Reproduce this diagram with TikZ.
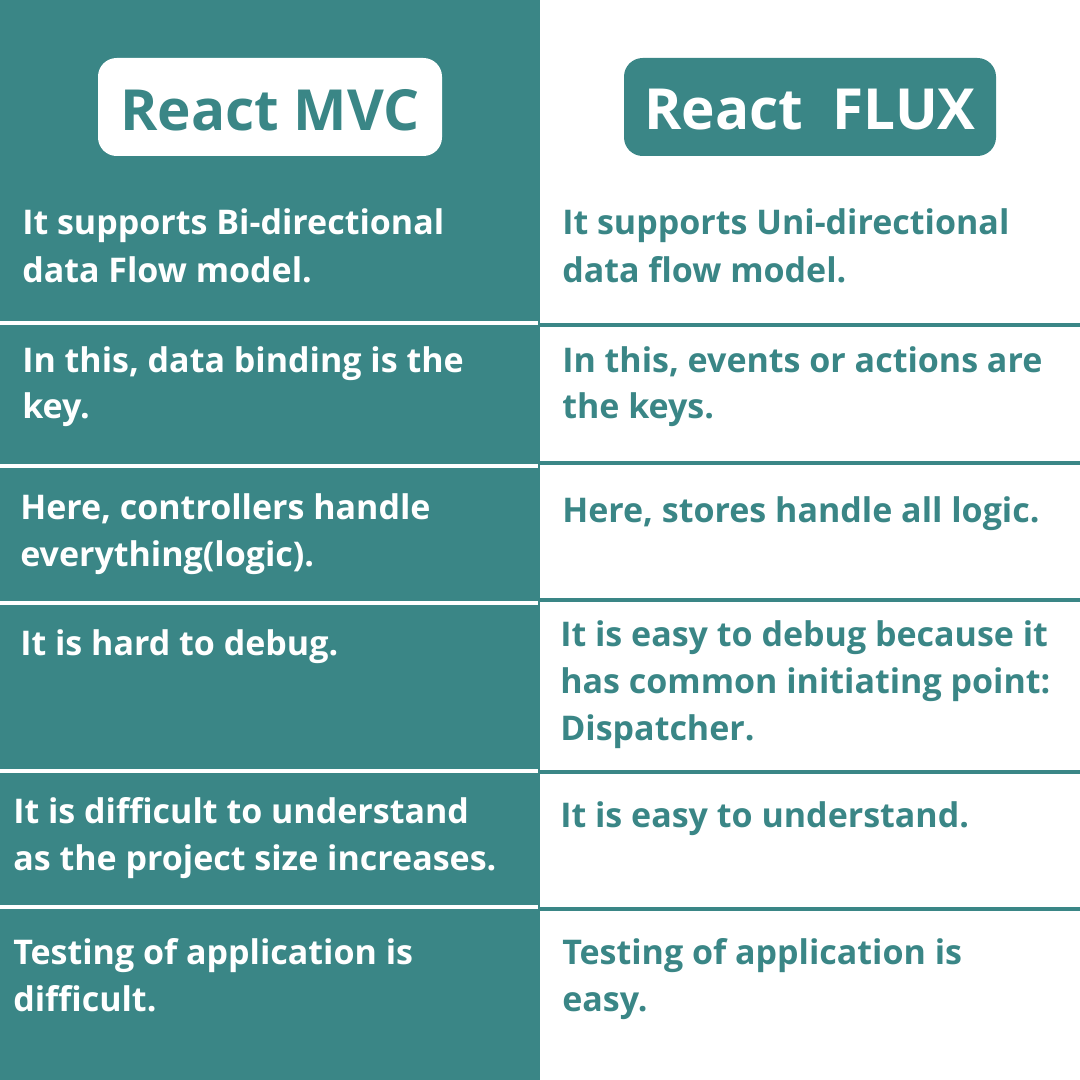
\documentclass[tikz,border=0pt]{standalone}
\usepackage{fontspec}
\setmainfont{Open Sans}
\definecolor{teal1}{HTML}{3A8686}
\begin{document}
\begin{tikzpicture}[x=0.75pt,y=-0.75pt,
 lt/.style={anchor=base west,inner sep=0,text=white,font=\bfseries\fontsize{25.5}{30}\selectfont},
 rt/.style={lt,text=teal1},
 ttl/.style={font=\bfseries\fontsize{42.5}{48}\selectfont}]
\useasboundingbox (0,0) rectangle (1080,1080);
\fill[teal1] (0,0) rectangle (540,1080);
\fill[white,rounded corners=14pt] (98,58) rectangle (442,156);
\fill[teal1,rounded corners=14pt] (624,58) rectangle (996,156);
\node[ttl,text=teal1] (t1) at (270,110) {React MVC};
\node[ttl,text=white] (t2) at (810,110) {React\ \ FLUX};
\foreach \y in {323,466,603,771,907} \draw[white,line width=2.5pt] (0,\y) -- (538,\y);
\foreach \y in {325,463,600,772,909} \draw[teal1,line width=2.5pt] (540,\y) -- (1080,\y);
\node[lt] (a1) at (22,235) {It supports Bi-directional};
\node[lt] (a2) at (22,282) {data Flow model.};
\node[lt] (b1) at (22,372) {In this, data binding is the};
\node[lt] (b2) at (22,418) {key.};
\node[lt] (c1) at (20,519) {Here, controllers handle};
\node[lt] (c2) at (20,566) {everything(logic).};
\node[lt] (d1) at (20,655) {It is hard to debug.};
\node[lt] (e1) at (13,823) {It is difficult to understand};
\node[lt] (e2) at (13,870) {as the project size increases.};
\node[lt] (f1) at (13,964) {Testing of application is};
\node[lt] (f2) at (13,1011) {difficult.};
\node[rt] (g1) at (562,235) {It supports Uni-directional};
\node[rt] (g2) at (562,282) {data flow model.};
\node[rt] (h1) at (562,372) {In this, events or actions are};
\node[rt] (h2) at (562,418) {the keys.};
\node[rt] (i1) at (562,522) {Here, stores handle all logic.};
\node[rt] (j1) at (560,646) {It is easy to debug because it};
\node[rt] (j2) at (560,693) {has common initiating point:};
\node[rt] (j3) at (560,740) {Dispatcher.};
\node[rt] (k1) at (560,827) {It is easy to understand.};
\node[rt] (l1) at (562,964) {Testing of application is};
\node[rt] (l2) at (562,1011) {easy.};
\end{tikzpicture}
\end{document}
